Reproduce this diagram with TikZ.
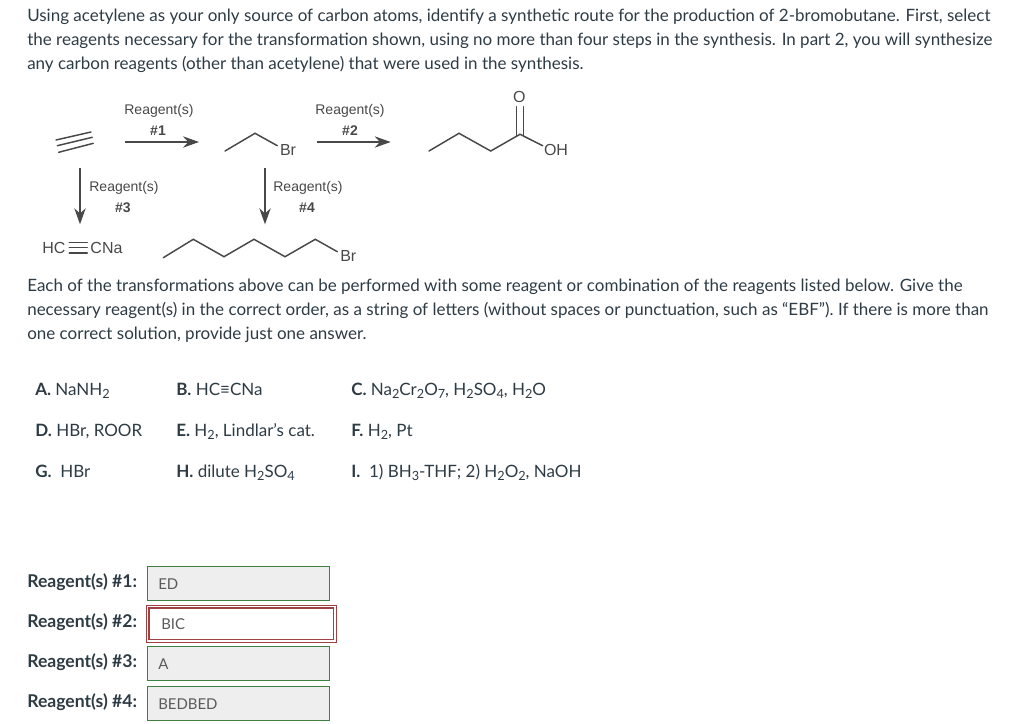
\documentclass[tikz,border=0pt]{standalone}
\usepackage{fontspec}
\setmainfont{Lato}
\newfontfamily\chemfont{Liberation Sans}
\usetikzlibrary{arrows.meta,calc}
\definecolor{bodytext}{HTML}{2D3B45}
\definecolor{chemgray}{HTML}{484848}
\definecolor{goodgreen}{HTML}{3F7F3F}
\definecolor{badred}{HTML}{A04040}
\definecolor{boxgray}{HTML}{EEEEEE}
\definecolor{boxtext}{HTML}{5A5A5A}
\newcommand{\lowtext}[1]{\raisebox{-0.35ex}{\fontsize{9.5pt}{10pt}\selectfont #1}}
\begin{document}
\begin{tikzpicture}[x=0.75pt,y=-0.75pt,line cap=round]
      \useasboundingbox (0,0) rectangle (1024,724);
      \tikzstyle{bodyline}=[anchor=base west, inner sep=0pt, text=bodytext, font=\fontsize{12.75pt}{15pt}\selectfont];
      \tikzstyle{boldline}=[anchor=base west, inner sep=0pt, text=bodytext, font=\bfseries\fontsize{13.2pt}{15pt}\selectfont];
      \tikzstyle{bondline}=[line width=1.1pt, chemgray, line join=miter];
      \tikzstyle{chemlabel}=[inner sep=0pt, text=chemgray, font=\chemfont\fontsize{10.5pt}{12pt}\selectfont];
      \tikzstyle{atomlabel}=[inner sep=0pt, text=chemgray, font=\chemfont\fontsize{12pt}{12pt}\selectfont];
      \tikzstyle{reagentnum}=[inner sep=0pt, text=chemgray, font=\chemfont\bfseries\fontsize{10.5pt}{12pt}\selectfont];
      \tikzstyle{steparrow}=[line width=1.1pt, chemgray, -{Stealth[length=12pt,width=8.5pt]}, line cap=butt];
      \tikzstyle{answerbox}=[anchor=north west, inner sep=0pt, minimum width=137pt, minimum height=25.7pt, draw=goodgreen, line width=0.8pt, fill=boxgray];
      \tikzstyle{answertext}=[anchor=base west, inner sep=0pt, text=boxtext, font=\fontsize{11.2pt}{14pt}\selectfont];
      
      % question text
      \node[bodyline] (qa) at (27,21.7) {Using acetylene as your only source of carbon atoms, identify a synthetic route for the production of 2-bromobutane. First, select};
      \node[bodyline] (qb) at (27,45.5) {the reagents necessary for the transformation shown, using no more than four steps in the synthesis. In part 2, you will synthesize};
      \node[bodyline] (qc) at (27,69.5) {any carbon reagents (other than acetylene) that were used in the synthesis.};
      
      % acetylene
      \coordinate (TA) at (56,140);
      \coordinate (TB) at (91,132);
      \coordinate (TC) at (57.3,145.7);
      \coordinate (TD) at (92.3,137.3);
      \coordinate (TE) at (58.7,152.3);
      \coordinate (TF) at (93.3,143.3);
      \draw[bondline] (TA) -- (TB);
      \draw[bondline] (TC) -- (TD);
      \draw[bondline] (TE) -- (TF);
      
      % bromoethane
      \coordinate (EA) at (225,151);
      \coordinate (EB) at (255,133.3);
      \coordinate (EC) at (277.3,145.7);
      \draw[bondline] (EA) -- (EB) -- (EC);
      \node[atomlabel] (brA) at (288,150) {Br};
      
      % butanoic acid
      \coordinate (AA) at (429,151);
      \coordinate (AB) at (459,133.3);
      \coordinate (AC) at (490.7,151);
      \coordinate (AD) at (520,134.3);
      \coordinate (AE) at (542.7,145.7);
      \draw[bondline] (AA) -- (AB) -- (AC) -- (AD) -- (AE);
      \node[atomlabel] (oh) at (556,150) {OH};
      \node[atomlabel] (oxy) at (519.3,97.3) {O};
      \coordinate (OA) at (516.7,106.7);
      \coordinate (OB) at (516.7,136);
      \coordinate (OC) at (523.3,106.7);
      \coordinate (OD) at (523.3,136);
      \draw[bondline] (OA) -- (OB);
      \draw[bondline] (OC) -- (OD);
      
      % sodium acetylide
      \node[atomlabel] (hc) at (54,247.7) {HC};
      \node[atomlabel] (cna) at (106.5,247.7) {CNa};
      \coordinate (NA) at (69.3,242.5);
      \coordinate (NB) at (87.3,242.5);
      \coordinate (NC) at (69.3,247.7);
      \coordinate (ND) at (87.3,247.7);
      \coordinate (NE) at (69.3,253);
      \coordinate (NF) at (87.3,253);
      \draw[bondline] (NA) -- (NB);
      \draw[bondline] (NC) -- (ND);
      \draw[bondline] (NE) -- (NF);
      
      % 1-bromohexane
      \coordinate (HA) at (163.3,257.7);
      \coordinate (HB) at (193.3,239.3);
      \coordinate (HC) at (224,256.7);
      \coordinate (HD) at (254,239.3);
      \coordinate (HE) at (285,256.7);
      \coordinate (HF) at (315.3,239.3);
      \coordinate (HG) at (337.3,251.7);
      \draw[bondline] (HA) -- (HB) -- (HC) -- (HD) -- (HE) -- (HF) -- (HG);
      \node[atomlabel] (brB) at (348.3,255.7) {Br};
      
      % reaction arrows
      \coordinate (RA) at (125,142);
      \coordinate (RB) at (199,142);
      \coordinate (RC) at (316.7,142);
      \coordinate (RD) at (390.7,142);
      \coordinate (RE) at (80,167.7);
      \coordinate (RF) at (80,224.3);
      \coordinate (RG) at (265,167.7);
      \coordinate (RH) at (265,224.3);
      \draw[steparrow] (RA) -- (RB);
      \draw[steparrow] (RC) -- (RD);
      \draw[steparrow] (RE) -- (RF);
      \draw[steparrow] (RG) -- (RH);
      \node[chemlabel] (la) at (159,111.3) {Reagent(s)};
      \node[reagentnum] (na) at (158,130.7) {\#1};
      \node[chemlabel] (lb) at (350,111.3) {Reagent(s)};
      \node[reagentnum] (nb) at (350,130.7) {\#2};
      \node[chemlabel] (lc) at (124,188.3) {Reagent(s)};
      \node[reagentnum] (nc) at (123,207.7) {\#3};
      \node[chemlabel] (ld) at (308,188.3) {Reagent(s)};
      \node[reagentnum] (nd) at (307,207.7) {\#4};
      
      % instructions
      \node[bodyline] (pa) at (27,291) {Each of the transformations above can be performed with some reagent or combination of the reagents listed below. Give the};
      \node[bodyline] (pb) at (27,315) {necessary reagent(s) in the correct order, as a string of letters (without spaces or punctuation, such as “EBF”). If there is more than};
      \node[bodyline] (pc) at (27,339) {one correct solution, provide just one answer.};
      
      % reagent list
      \node[bodyline] (optA) at (35,395) {\textbf{A.} NaNH\lowtext{2}};
      \node[bodyline] (optB) at (176,395) {\textbf{B.} HC≡CNa};
      \node[bodyline] (optC) at (351,395) {\textbf{C.} Na\lowtext{2}Cr\lowtext{2}O\lowtext{7}, H\lowtext{2}SO\lowtext{4}, H\lowtext{2}O};
      \node[bodyline] (optD) at (35,436) {\textbf{D.} HBr, ROOR};
      \node[bodyline] (optE) at (176,436) {\textbf{E.} H\lowtext{2}, Lindlar’s cat.};
      \node[bodyline] (optF) at (351,436) {\textbf{F.} H\lowtext{2}, Pt};
      \node[bodyline] (optG) at (35,477.5) {\textbf{G.}\ \ HBr};
      \node[bodyline] (optH) at (176,477.5) {\textbf{H.} dilute H\lowtext{2}SO\lowtext{4}};
      \node[bodyline] (optI) at (351,477.5) {\textbf{I.}\ \ 1) BH\lowtext{3}-THF; 2) H\lowtext{2}O\lowtext{2}, NaOH};
      
      % answers
      \node[boldline] (ansA) at (27,587) {Reagent(s) \#1:};
      \node[boldline] (ansB) at (27,627) {Reagent(s) \#2:};
      \node[boldline] (ansC) at (27,667) {Reagent(s) \#3:};
      \node[boldline] (ansD) at (27,707) {Reagent(s) \#4:};
      \node[answerbox] (boxA) at (146.7,565.7) {};
      \node[answerbox,draw=badred,fill=white,minimum width=140.3pt,line width=1pt,double=white,double distance=1.2pt] (boxB) at (147,606) {};
      \node[answerbox] (boxC) at (146.7,645.7) {};
      \node[answerbox] (boxD) at (146.7,685.7) {};
      \node[answertext] (txtA) at (158,589) {ED};
      \node[answertext] (txtB) at (161,629) {BIC};
      \node[answertext] (txtC) at (158,669) {A};
      \node[answertext] (txtD) at (158,709) {BEDBED};
\end{tikzpicture}
\end{document}
